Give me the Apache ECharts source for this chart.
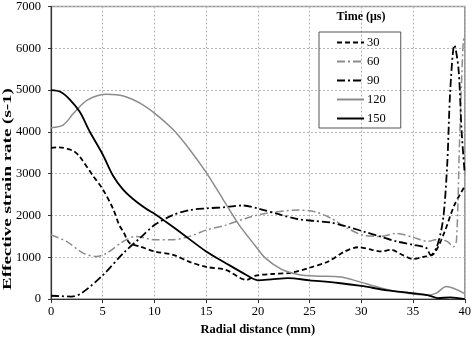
<!DOCTYPE html>
<html><head><meta charset="utf-8">
<script src="https://cdn.jsdelivr.net/npm/echarts@6/dist/echarts.min.js"></script>
<style>html,body{margin:0;padding:0;background:#fff}#c{width:474px;height:341px}</style>
</head><body><div id="c"></div>
<script>
const xTicks = [0, 5, 10, 15, 20, 25, 30, 35, 40];
const yTicks = [0, 1000, 2000, 3000, 4000, 5000, 6000, 7000];
const seriesNames = ['30', '60', '90', '120', '150'];

const x30 = [0, 0.8, 2.2, 2.8, 4.06, 5, 6, 6.6, 7, 7.6, 8.6, 10, 11.8, 13.4, 15, 16.9, 18.9, 19.8, 21.3, 23.2, 25, 26.8, 28.4, 29.7, 31, 31.9, 32.9, 33.8, 35, 36, 37, 38, 39, 40];
const y30 = [3620, 3630, 3540, 3400, 2950, 2630, 2160, 1770, 1610, 1340, 1260, 1140, 1060, 890, 770, 700, 460, 560, 600, 630, 750, 900, 1140, 1240, 1180, 1140, 1180, 1080, 960, 1010, 1080, 1580, 2250, 2700];

const x60 = [0, 1.5, 3.1, 4.4, 5.4, 7, 8.2, 10, 11.8, 13.4, 15, 16.9, 18.8, 20.7, 23.9, 25.5, 27.1, 28.7, 30.3, 31.8, 33.4, 35, 36.4, 37.4, 38.3, 38.9, 39.2, 39.5, 39.85, 40];
const y60 = [1535, 1380, 1100, 1020, 1100, 1380, 1500, 1420, 1420, 1500, 1650, 1770, 1930, 2050, 2130, 2090, 1930, 1690, 1520, 1500, 1570, 1480, 1380, 1430, 1380, 1250, 1400, 3800, 6150, 6300];

const x90 = [0, 1, 2, 3, 5, 7, 8.6, 10, 11.8, 13.4, 15, 16.9, 18.5, 20, 22.3, 23.9, 25.5, 27.1, 28.7, 30.3, 31.8, 33.4, 35, 36.3, 36.7, 37.3, 37.9, 38.3, 38.6, 39.0, 39.4, 39.7, 40];
const y90 = [80, 70, 60, 150, 570, 1100, 1460, 1770, 2010, 2130, 2170, 2200, 2240, 2170, 2010, 1910, 1870, 1830, 1730, 1610, 1500, 1380, 1300, 1220, 1050, 1250, 1900, 3200, 5000, 6080, 5500, 4000, 3000];

const x120 = [0, 1.2, 2.2, 3.5, 5.4, 7, 8.6, 10, 11.8, 13.4, 15, 16.6, 18.2, 19.8, 20.7, 22.3, 23.9, 25.5, 28, 29.6, 31.8, 33.4, 35, 36.4, 37.3, 38.2, 40];
const y120 = [4100, 4170, 4450, 4760, 4900, 4860, 4690, 4450, 4055, 3580, 3030, 2400, 1770, 1260, 985, 710, 590, 550, 530, 430, 275, 180, 120, 95, 150, 300, 130];

const x150 = [0, 0.9, 1.8, 2.78, 3.74, 5, 6, 6.93, 7.9, 9.2, 10, 11.1, 12.5, 15, 16.9, 18.8, 20, 21.3, 22.9, 25, 27.8, 30, 32.5, 35, 36.4, 37.4, 38.6, 40];
const y150 = [5000, 4960, 4780, 4480, 4010, 3460, 2950, 2630, 2400, 2160, 2040, 1850, 1600, 1140, 860, 590, 450, 470, 500, 450, 385, 315, 210, 140, 95, 25, 40, 0];

const pairs = (xs, ys) => xs.map((x, i) => [x, ys[i]]);
const serif = '"Liberation Serif", "Times New Roman", serif';

const styles = [
  {color: '#000', width: 1.8, type: [5, 3]},
  {color: '#8c8c8c', width: 1.5, type: [8, 3, 2, 3]},
  {color: '#000', width: 1.8, type: [8, 3, 2, 3]},
  {color: '#8c8c8c', width: 1.5, type: 'solid'},
  {color: '#000', width: 1.8, type: 'solid'}
];
const datasets = [pairs(x30, y30), pairs(x60, y60), pairs(x90, y90), pairs(x120, y120), pairs(x150, y150)];

const chart = echarts.init(document.getElementById('c'), null, {renderer: 'canvas'});
chart.setOption({
  animation: false,
  backgroundColor: '#fff',
  grid: {left: 51, right: 6, top: 5, bottom: 39, show: true, borderColor: '#999', borderWidth: 1.5, backgroundColor: 'transparent'},
  xAxis: {
    type: 'value', min: xTicks[0], max: xTicks[xTicks.length - 1], interval: 5,
    name: 'Radial distance (mm)', nameLocation: 'middle', nameGap: 22,
    nameTextStyle: {fontFamily: serif, fontWeight: 'bold', fontSize: 12.5, color: '#000'},
    axisLine: {show: true, lineStyle: {color: '#333', width: 1.2}},
    axisTick: {show: true, length: 4, lineStyle: {color: '#333'}},
    axisLabel: {fontFamily: serif, fontSize: 12.5, color: '#000', margin: 6, formatter: v => String(v)},
    splitLine: {show: true, lineStyle: {color: '#b5b5b5', type: [2, 2], width: 1}}
  },
  yAxis: {
    type: 'value', min: yTicks[0], max: yTicks[yTicks.length - 1], interval: 1000,
    axisLine: {show: true, lineStyle: {color: '#333', width: 1.2}},
    axisTick: {show: true, length: 3, lineStyle: {color: '#333'}},
    axisLabel: {fontFamily: serif, fontSize: 12.5, color: '#000', margin: 10, formatter: v => String(v)},
    splitLine: {show: true, lineStyle: {color: '#b5b5b5', type: [2, 2], width: 1}}
  },
  legend: {
    show: true, orient: 'vertical', left: 319, top: 32,
    padding: [4, 15, 3, 17], itemGap: 6, itemWidth: 27, itemHeight: 14,
    borderColor: '#555', borderWidth: 1,
    itemStyle: {opacity: 0},
    textStyle: {fontFamily: serif, fontSize: 12.5, color: '#000', padding: [0, 0, 0, -2]},
    data: seriesNames
  },
  graphic: [
    {type: 'text', x: 8, y: 189, rotation: Math.PI / 2, scaleX: 1.46, z: 100,
     style: {text: 'Effective strain rate (s-1)', font: 'bold 13px ' + serif, textAlign: 'center', textVerticalAlign: 'middle', fill: '#000'}},
    {type: 'text', x: 361, y: 17, z: 100,
     style: {text: 'Time (\u03bcs)', font: 'bold 12px ' + serif, textAlign: 'center', textVerticalAlign: 'middle', fill: '#000'}}
  ],
  series: datasets.map((d, i) => ({
    name: seriesNames[i], type: 'line', data: d,
    showSymbol: false, symbol: 'none', smooth: 0.3,
    lineStyle: styles[i], itemStyle: {color: styles[i].color}
  }))
});
</script></body></html>
